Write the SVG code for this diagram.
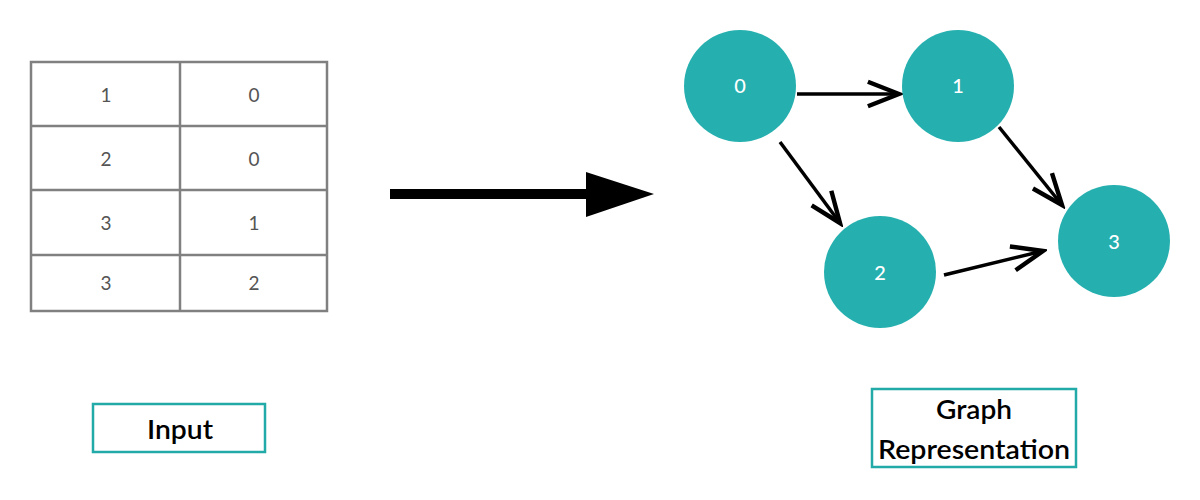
<svg xmlns="http://www.w3.org/2000/svg" width="1200" height="500" viewBox="0 0 1200 500">
<style>
.cell{fill:none;stroke:#808080;stroke-width:2.5}
.ct{font-family:Lato,"Liberation Sans",sans-serif;font-size:19px;fill:#555;text-anchor:middle}
.node{fill:#25b0af}
.nt{font-family:Lato,"Liberation Sans",sans-serif;font-size:20px;font-weight:500;fill:#fff;text-anchor:middle}
.edge{stroke:#000;stroke-width:3.5;fill:none}
.lbox{fill:#fff;stroke:#22aaa8;stroke-width:2.5}
.lt{font-family:Lato,"Liberation Sans",sans-serif;font-size:27px;font-weight:600;fill:#000;text-anchor:middle}
</style>
<defs>
<marker id="chev" markerUnits="userSpaceOnUse" markerWidth="40" markerHeight="40" viewBox="-32 -16 36 32" refX="0" refY="0" orient="auto">
<path d="M-28,-11 L0,0 L-28,11" fill="none" stroke="#000" stroke-width="4"/>
</marker>
</defs>
<g id="table">
<rect class="cell" x="31" y="62" width="296" height="249"/>
<line class="cell" x1="180" y1="62" x2="180" y2="311"/>
<line class="cell" x1="31" y1="126" x2="327" y2="126"/>
<line class="cell" x1="31" y1="190" x2="327" y2="190"/>
<line class="cell" x1="31" y1="255" x2="327" y2="255"/>
<text class="ct" x="106" y="102">1</text><text class="ct" x="254" y="102">0</text>
<text class="ct" x="106" y="166">2</text><text class="ct" x="254" y="166">0</text>
<text class="ct" x="106" y="230">3</text><text class="ct" x="254" y="230">1</text>
<text class="ct" x="106" y="290">3</text><text class="ct" x="254" y="290">2</text>
</g>
<g id="bigarrow">
<line x1="390" y1="194" x2="592" y2="194" stroke="#000" stroke-width="10"/>
<polygon points="586,172 654,194 586,217" fill="#000"/>
</g>
<g id="connectors">
<line class="edge" x1="797" y1="94" x2="899" y2="94" marker-end="url(#chev)"/>
<line class="edge" x1="780" y1="142" x2="840" y2="223" marker-end="url(#chev)"/>
<line class="edge" x1="999" y1="127" x2="1062" y2="205" marker-end="url(#chev)"/>
<line class="edge" x1="944" y1="275" x2="1043" y2="251" marker-end="url(#chev)"/>
</g>
<g id="node0"><circle class="node" cx="740" cy="86" r="56"/><text class="nt" x="740" y="93">0</text></g>
<g id="node1"><circle class="node" cx="958" cy="86" r="56"/><text class="nt" x="958" y="93">1</text></g>
<g id="node2"><circle class="node" cx="880" cy="272" r="56"/><text class="nt" x="880" y="280">2</text></g>
<g id="node3"><circle class="node" cx="1114" cy="241" r="56"/><text class="nt" x="1114" y="249">3</text></g>
<g id="label-input"><rect class="lbox" x="93" y="404" width="172" height="48"/><text class="lt" x="180" y="439" textLength="66" lengthAdjust="spacingAndGlyphs">Input</text></g>
<g id="label-graph"><rect class="lbox" x="872" y="389" width="204" height="78"/><text class="lt" x="974" y="419" textLength="76" lengthAdjust="spacingAndGlyphs">Graph</text><text class="lt" x="974" y="459" textLength="192" lengthAdjust="spacingAndGlyphs">Representation</text></g>
</svg>
